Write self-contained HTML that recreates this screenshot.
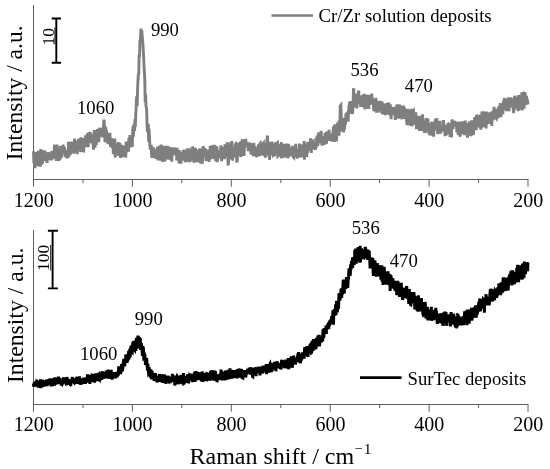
<!DOCTYPE html>
<html><head><meta charset="utf-8"><title>Raman spectra</title>
<style>
html,body{margin:0;padding:0;background:#fff;}
svg{display:block;font-family:"Liberation Serif","Times New Roman",serif;fill:#000;}
</style></head><body>
<svg width="550" height="469" viewBox="0 0 550 469">
<rect width="550" height="469" fill="#fff"/>
<!-- top panel -->
<g stroke="#5e5e5e" stroke-width="1" fill="none"><path d="M33.5 5 V180.0"/><path d="M33 179.5 H528.5"/><path d="M33.5 179.5 v7.2"/><path d="M83.0 179.5 v3.6"/><path d="M132.4 179.5 v7.2"/><path d="M181.8 179.5 v3.6"/><path d="M231.3 179.5 v7.2"/><path d="M280.8 179.5 v3.6"/><path d="M330.2 179.5 v7.2"/><path d="M379.6 179.5 v3.6"/><path d="M429.1 179.5 v7.2"/><path d="M478.6 179.5 v3.6"/><path d="M528.0 179.5 v7.2"/></g>
<polyline points="33.5,151.3 33.9,163.2 34.3,159.1 34.6,163.2 35.0,168.1 35.4,161.1 35.8,159.1 36.2,152.0 36.5,155.7 36.9,160.1 37.3,164.0 37.7,166.0 38.1,157.0 38.4,150.9 38.8,157.2 39.2,166.5 39.6,153.9 40.0,156.5 40.3,166.7 40.7,149.1 41.1,159.5 41.5,164.7 41.9,152.7 42.2,158.8 42.6,163.5 43.0,150.4 43.4,157.9 43.8,160.7 44.1,159.1 44.5,155.9 44.9,150.6 45.3,157.6 45.7,153.8 46.0,157.3 46.4,155.4 46.8,161.5 47.2,161.5 47.6,152.8 47.9,156.6 48.3,152.1 48.7,155.2 49.1,154.3 49.5,159.9 49.8,152.6 50.2,154.7 50.6,160.1 51.0,155.3 51.4,160.5 51.7,151.1 52.1,159.4 52.5,155.3 52.9,153.3 53.3,156.4 53.6,155.2 54.0,154.3 54.4,145.8 54.8,145.0 55.2,158.6 55.5,153.0 55.9,156.5 56.3,160.8 56.7,155.2 57.1,144.5 57.4,149.2 57.8,154.4 58.2,148.6 58.6,161.0 59.0,159.4 59.3,158.8 59.7,153.2 60.1,159.6 60.5,146.1 60.9,149.6 61.2,152.5 61.6,157.7 62.0,153.4 62.4,145.2 62.8,148.7 63.1,150.0 63.5,149.5 63.9,147.0 64.3,147.5 64.7,149.9 65.0,153.6 65.4,156.7 65.8,151.1 66.2,149.9 66.6,155.1 66.9,158.3 67.3,152.8 67.7,156.2 68.1,158.0 68.5,141.8 68.8,156.5 69.2,145.4 69.6,147.6 70.0,154.9 70.4,153.3 70.7,142.3 71.1,152.0 71.5,141.6 71.9,144.4 72.3,153.4 72.6,146.1 73.0,148.5 73.4,151.9 73.8,152.2 74.2,151.4 74.5,138.6 74.9,145.9 75.3,146.4 75.7,141.0 76.1,146.7 76.4,148.4 76.8,150.7 77.2,154.2 77.6,140.4 78.0,142.1 78.3,147.7 78.7,138.6 79.1,141.6 79.5,146.3 79.9,140.0 80.2,148.7 80.6,152.2 81.0,137.2 81.4,145.3 81.8,148.5 82.1,152.2 82.5,140.0 82.9,138.1 83.3,150.0 83.7,150.3 84.0,138.1 84.4,143.4 84.8,144.7 85.2,147.4 85.6,135.2 85.9,144.6 86.3,145.9 86.7,143.5 87.1,136.2 87.5,133.4 87.8,137.1 88.2,147.1 88.6,133.5 89.0,132.9 89.4,137.9 89.7,133.9 90.1,133.1 90.5,133.4 90.9,138.6 91.3,143.1 91.6,137.5 92.0,134.2 92.4,135.2 92.8,142.8 93.2,145.4 93.5,149.7 93.9,134.7 94.3,130.0 94.7,144.6 95.1,147.8 95.4,138.0 95.8,140.2 96.2,145.0 96.6,139.3 97.0,141.8 97.3,129.0 97.7,131.2 98.1,132.5 98.5,129.5 98.9,142.3 99.2,127.9 99.6,137.3 100.0,127.7 100.4,131.9 100.8,133.0 101.1,130.8 101.5,134.8 101.9,133.6 102.3,130.7 102.7,137.3 103.0,127.9 103.4,128.6 103.8,120.9 104.2,120.9 104.6,128.3 104.9,141.9 105.3,141.1 105.7,126.9 106.1,132.3 106.5,130.4 106.8,135.8 107.2,132.9 107.6,135.6 108.0,144.2 108.4,133.7 108.7,139.4 109.1,140.0 109.5,143.9 109.9,132.7 110.3,144.1 110.6,147.2 111.0,143.6 111.4,138.1 111.8,146.1 112.2,147.1 112.5,147.2 112.9,138.7 113.3,153.9 113.7,152.8 114.1,145.4 114.4,147.3 114.8,138.6 115.2,157.4 115.6,153.3 116.0,148.9 116.3,154.1 116.7,143.9 117.1,146.4 117.5,144.7 117.9,151.3 118.2,142.0 118.6,155.9 119.0,150.7 119.4,148.7 119.8,142.7 120.1,153.1 120.5,157.8 120.9,153.6 121.3,145.6 121.7,155.5 122.0,144.8 122.4,157.1 122.8,150.3 123.2,147.7 123.6,150.5 123.9,152.0 124.3,145.8 124.7,157.3 125.1,150.7 125.5,157.3 125.8,156.3 126.2,141.6 126.6,152.1 127.0,146.1 127.4,151.1 127.7,147.8 128.1,147.1 128.5,151.6 128.9,137.7 129.3,146.8 129.6,139.7 130.0,135.1 130.4,147.3 130.8,143.9 131.2,146.5 131.5,142.6 131.9,136.0 132.3,146.9 132.7,130.1 133.1,126.5 133.4,136.8 133.8,126.1 134.2,124.1 134.6,130.9 135.0,119.1 135.3,127.0 135.7,116.4 136.1,108.3 136.5,98.1 136.9,96.2 137.2,106.1 137.6,88.9 138.0,79.6 138.4,74.3 138.8,73.8 139.1,55.1 139.5,57.4 139.9,41.9 140.3,42.0 140.7,34.3 141.0,28.6 141.4,31.5 141.8,30.4 142.2,36.2 142.6,40.6 142.9,44.0 143.3,50.6 143.7,58.9 144.1,67.6 144.5,73.5 144.8,81.4 145.2,102.3 145.6,94.2 146.0,106.2 146.4,107.3 146.7,110.9 147.1,126.4 147.5,132.2 147.9,128.6 148.3,123.8 148.6,141.7 149.0,128.8 149.4,135.5 149.8,143.3 150.2,149.5 150.5,148.8 150.9,147.4 151.3,147.1 151.7,156.2 152.1,157.7 152.4,156.7 152.8,155.6 153.2,147.4 153.6,149.0 154.0,152.7 154.3,152.5 154.7,158.1 155.1,150.0 155.5,157.0 155.9,151.8 156.2,159.0 156.6,149.3 157.0,154.8 157.4,146.7 157.8,148.3 158.1,160.4 158.5,151.7 158.9,160.2 159.3,152.8 159.7,145.5 160.0,159.1 160.4,146.9 160.8,160.7 161.2,144.6 161.6,156.2 161.9,147.8 162.3,150.0 162.7,161.9 163.1,154.2 163.5,156.8 163.8,156.6 164.2,145.9 164.6,161.2 165.0,160.3 165.4,148.7 165.7,155.4 166.1,149.9 166.5,157.2 166.9,145.9 167.3,153.3 167.6,159.0 168.0,158.2 168.4,146.4 168.8,159.6 169.2,149.1 169.5,158.2 169.9,153.8 170.3,147.4 170.7,156.3 171.1,159.1 171.4,157.2 171.8,161.6 172.2,147.6 172.6,150.1 173.0,148.5 173.3,155.3 173.7,152.6 174.1,150.2 174.5,153.4 174.9,149.1 175.2,147.5 175.6,153.0 176.0,150.7 176.4,151.6 176.8,160.4 177.1,147.8 177.5,157.1 177.9,157.1 178.3,150.4 178.7,151.6 179.0,163.4 179.4,150.3 179.8,159.4 180.2,161.9 180.6,152.4 180.9,163.6 181.3,155.0 181.7,156.2 182.1,158.0 182.5,153.7 182.8,156.9 183.2,150.0 183.6,160.3 184.0,154.5 184.4,149.5 184.7,153.2 185.1,162.3 185.5,159.9 185.9,154.0 186.3,151.4 186.6,153.8 187.0,161.9 187.4,148.4 187.8,158.9 188.2,159.4 188.5,149.6 188.9,151.2 189.3,157.4 189.7,161.5 190.1,160.4 190.4,161.6 190.8,150.0 191.2,150.3 191.6,154.9 192.0,155.3 192.3,155.3 192.7,146.2 193.1,154.4 193.5,159.9 193.9,161.7 194.2,162.6 194.6,160.1 195.0,162.2 195.4,147.7 195.8,161.5 196.1,149.7 196.5,151.5 196.9,153.8 197.3,162.1 197.7,155.3 198.0,151.0 198.4,151.9 198.8,160.6 199.2,161.0 199.6,148.5 199.9,150.6 200.3,153.7 200.7,150.5 201.1,156.5 201.5,149.4 201.8,155.0 202.2,163.8 202.6,159.3 203.0,146.2 203.4,147.8 203.7,152.5 204.1,156.8 204.5,152.8 204.9,149.2 205.3,149.3 205.6,148.8 206.0,161.0 206.4,157.2 206.8,152.0 207.2,157.7 207.5,155.4 207.9,154.0 208.3,149.8 208.7,152.8 209.1,161.9 209.4,156.7 209.8,160.0 210.2,146.1 210.6,154.1 211.0,151.3 211.3,145.9 211.7,153.2 212.1,145.3 212.5,148.0 212.9,158.9 213.2,157.5 213.6,156.8 214.0,144.9 214.4,148.1 214.8,145.4 215.1,148.2 215.5,146.0 215.9,161.5 216.3,159.6 216.7,146.5 217.0,148.9 217.4,162.1 217.8,153.3 218.2,150.1 218.6,151.3 218.9,150.3 219.3,153.8 219.7,157.4 220.1,152.3 220.5,158.5 220.8,145.3 221.2,152.3 221.6,161.3 222.0,146.8 222.4,150.2 222.7,154.4 223.1,148.9 223.5,159.2 223.9,151.5 224.3,149.6 224.6,159.2 225.0,144.4 225.4,156.9 225.8,145.0 226.2,150.8 226.5,151.3 226.9,150.3 227.3,142.2 227.7,148.0 228.1,164.0 228.4,163.9 228.8,156.6 229.2,153.3 229.6,157.8 230.0,157.6 230.3,147.5 230.7,142.3 231.1,151.6 231.5,146.1 231.9,141.1 232.2,159.1 232.6,159.2 233.0,150.7 233.4,151.3 233.8,152.2 234.1,157.7 234.5,150.1 234.9,150.6 235.3,144.4 235.7,144.0 236.0,149.8 236.4,145.3 236.8,161.1 237.2,161.0 237.6,152.8 237.9,142.7 238.3,155.5 238.7,152.2 239.1,151.7 239.5,154.1 239.8,143.1 240.2,142.9 240.6,155.2 241.0,157.0 241.4,141.4 241.7,153.8 242.1,140.7 242.5,139.5 242.9,142.7 243.3,143.9 243.6,146.2 244.0,156.0 244.4,146.0 244.8,141.5 245.2,144.5 245.5,139.1 245.9,140.0 246.3,145.0 246.7,146.9 247.1,142.4 247.4,146.3 247.8,143.3 248.2,151.2 248.6,146.2 249.0,142.3 249.3,149.3 249.7,144.0 250.1,143.7 250.5,143.0 250.9,153.6 251.2,145.7 251.6,154.8 252.0,145.7 252.4,143.5 252.8,150.9 253.1,153.6 253.5,156.2 253.9,142.9 254.3,154.8 254.7,156.0 255.0,146.5 255.4,148.3 255.8,151.7 256.2,147.4 256.6,157.4 256.9,153.9 257.3,156.5 257.7,148.3 258.1,150.5 258.5,144.4 258.8,147.7 259.2,153.3 259.6,156.1 260.0,143.6 260.4,143.1 260.7,144.9 261.1,150.3 261.5,154.6 261.9,145.5 262.3,149.2 262.6,150.7 263.0,155.7 263.4,143.2 263.8,142.7 264.2,151.1 264.5,148.1 264.9,147.6 265.3,157.7 265.7,154.2 266.1,143.2 266.4,152.6 266.8,154.5 267.2,136.9 267.6,136.9 268.0,155.5 268.3,143.0 268.7,155.7 269.1,151.8 269.5,159.8 269.9,153.5 270.2,141.9 270.6,154.7 271.0,145.7 271.4,155.1 271.8,141.7 272.1,146.9 272.5,154.4 272.9,143.9 273.3,154.8 273.7,154.4 274.0,154.1 274.4,156.4 274.8,149.4 275.2,142.3 275.6,144.2 275.9,147.8 276.3,143.4 276.7,154.4 277.1,142.9 277.5,142.6 277.8,156.0 278.2,155.6 278.6,144.4 279.0,148.6 279.4,156.2 279.7,152.5 280.1,146.7 280.5,149.9 280.9,156.9 281.3,142.0 281.6,158.5 282.0,150.2 282.4,145.1 282.8,157.1 283.2,143.9 283.5,148.6 283.9,152.3 284.3,145.5 284.7,157.6 285.1,153.3 285.4,144.7 285.8,146.4 286.2,143.6 286.6,153.4 287.0,144.4 287.3,150.8 287.7,156.3 288.1,158.1 288.5,143.9 288.9,149.0 289.2,149.0 289.6,150.4 290.0,150.7 290.4,149.4 290.8,156.4 291.1,147.7 291.5,149.7 291.9,149.0 292.3,145.7 292.7,154.4 293.0,147.7 293.4,157.2 293.8,157.6 294.2,147.0 294.6,148.4 294.9,157.1 295.3,151.8 295.7,143.7 296.1,153.6 296.5,150.1 296.8,156.7 297.2,156.9 297.6,158.3 298.0,154.7 298.4,157.3 298.7,150.6 299.1,148.4 299.5,143.6 299.9,157.5 300.3,145.4 300.6,152.5 301.0,152.7 301.4,157.5 301.8,150.1 302.2,144.7 302.5,149.3 302.9,144.6 303.3,147.6 303.7,153.6 304.1,141.0 304.4,159.7 304.8,151.3 305.2,147.9 305.6,153.6 306.0,143.4 306.3,146.2 306.7,157.0 307.1,143.8 307.5,153.1 307.9,141.8 308.2,148.8 308.6,150.4 309.0,142.3 309.4,144.0 309.8,148.0 310.1,147.7 310.5,138.4 310.9,146.0 311.3,153.0 311.7,142.4 312.0,149.1 312.4,139.5 312.8,143.1 313.2,144.7 313.6,145.0 313.9,146.4 314.3,149.1 314.7,148.1 315.1,148.7 315.5,149.6 315.8,138.3 316.2,147.8 316.6,142.7 317.0,136.7 317.4,136.5 317.7,145.7 318.1,143.6 318.5,132.5 318.9,141.4 319.3,132.3 319.6,138.4 320.0,141.3 320.4,141.1 320.8,132.6 321.2,131.1 321.5,138.4 321.9,145.5 322.3,144.2 322.7,136.1 323.1,139.0 323.4,142.9 323.8,144.4 324.2,139.7 324.6,144.8 325.0,133.0 325.3,133.4 325.7,133.3 326.1,140.8 326.5,143.7 326.9,136.4 327.2,140.6 327.6,131.2 328.0,137.2 328.4,134.6 328.8,133.8 329.1,129.8 329.5,138.5 329.9,139.7 330.3,139.8 330.7,138.3 331.0,134.5 331.4,141.0 331.8,135.6 332.2,141.4 332.6,132.5 332.9,137.3 333.3,127.8 333.7,126.6 334.1,142.0 334.5,132.4 334.8,124.3 335.2,133.6 335.6,139.6 336.0,135.9 336.4,141.3 336.7,138.2 337.1,130.3 337.5,124.6 337.9,122.3 338.3,126.1 338.6,133.4 339.0,135.7 339.4,120.4 339.8,131.9 340.2,106.0 340.5,105.6 340.9,105.1 341.3,119.2 341.7,131.0 342.1,126.6 342.4,123.5 342.8,120.8 343.2,117.7 343.6,132.4 344.0,128.8 344.3,130.1 344.7,126.7 345.1,119.6 345.5,124.7 345.9,113.9 346.2,120.8 346.6,112.6 347.0,113.6 347.4,121.8 347.8,111.5 348.1,121.8 348.5,112.7 348.9,106.7 349.3,106.7 349.7,101.7 350.0,109.0 350.4,112.2 350.8,101.0 351.2,105.4 351.6,113.9 351.9,103.6 352.3,113.9 352.7,111.5 353.1,103.6 353.5,89.0 353.8,88.6 354.2,104.9 354.6,107.3 355.0,97.1 355.4,95.2 355.7,95.3 356.1,95.3 356.5,99.0 356.9,108.5 357.3,100.3 357.6,100.2 358.0,97.2 358.4,92.0 358.8,92.0 359.2,103.5 359.5,97.4 359.9,101.8 360.3,102.5 360.7,106.9 361.1,96.4 361.4,99.2 361.8,103.2 362.2,95.1 362.6,102.4 363.0,107.1 363.3,97.3 363.7,101.3 364.1,93.8 364.5,101.4 364.9,109.4 365.2,101.4 365.6,94.7 366.0,98.0 366.4,101.8 366.8,108.7 367.1,99.4 367.5,101.4 367.9,105.9 368.3,94.7 368.7,109.0 369.0,101.3 369.4,97.7 369.8,104.9 370.2,97.2 370.6,95.3 370.9,96.2 371.3,104.5 371.7,93.6 372.1,101.8 372.5,97.7 372.8,103.7 373.2,99.0 373.6,108.3 374.0,111.4 374.4,101.2 374.7,101.3 375.1,105.3 375.5,109.5 375.9,97.9 376.3,105.8 376.6,110.4 377.0,110.1 377.4,103.8 377.8,112.6 378.2,106.2 378.5,101.4 378.9,102.0 379.3,107.7 379.7,108.3 380.1,111.4 380.4,110.6 380.8,101.0 381.2,104.7 381.6,113.1 382.0,107.5 382.3,101.9 382.7,114.5 383.1,109.5 383.5,104.3 383.9,107.8 384.2,105.6 384.6,104.0 385.0,111.4 385.4,115.2 385.8,108.6 386.1,103.2 386.5,110.4 386.9,107.8 387.3,108.5 387.7,105.4 388.0,114.5 388.4,105.5 388.8,102.5 389.2,113.2 389.6,115.0 389.9,105.5 390.3,104.4 390.7,112.0 391.1,119.2 391.5,106.8 391.8,112.9 392.2,108.3 392.6,115.1 393.0,109.7 393.4,108.0 393.7,113.9 394.1,112.3 394.5,107.2 394.9,108.1 395.3,119.9 395.6,117.3 396.0,113.4 396.4,113.9 396.8,104.6 397.2,107.9 397.5,117.1 397.9,104.4 398.3,118.5 398.7,116.3 399.1,112.9 399.4,108.9 399.8,104.6 400.2,108.6 400.6,115.8 401.0,111.5 401.3,118.4 401.7,105.7 402.1,117.8 402.5,117.7 402.9,115.8 403.2,108.1 403.6,108.4 404.0,107.5 404.4,108.1 404.8,118.8 405.1,114.1 405.5,119.2 405.9,111.2 406.3,113.1 406.7,121.7 407.0,125.1 407.4,108.8 407.8,122.3 408.2,118.9 408.6,109.8 408.9,118.9 409.3,112.1 409.7,113.2 410.1,125.7 410.5,120.8 410.8,108.7 411.2,121.2 411.6,109.0 412.0,126.3 412.4,122.6 412.7,121.3 413.1,111.2 413.5,110.7 413.9,120.4 414.3,117.2 414.6,124.6 415.0,114.6 415.4,120.3 415.8,112.4 416.2,119.7 416.5,129.1 416.9,117.4 417.3,126.8 417.7,115.8 418.1,127.7 418.4,123.0 418.8,115.8 419.2,125.9 419.6,131.0 420.0,116.1 420.3,117.1 420.7,117.3 421.1,122.4 421.5,130.8 421.9,129.3 422.2,121.8 422.6,114.3 423.0,126.1 423.4,124.7 423.8,120.6 424.1,126.8 424.5,132.9 424.9,121.1 425.3,122.0 425.7,132.8 426.0,118.4 426.4,119.3 426.8,120.4 427.2,131.2 427.6,119.6 427.9,118.6 428.3,126.8 428.7,131.0 429.1,130.6 429.5,125.7 429.8,135.4 430.2,123.4 430.6,126.9 431.0,126.2 431.4,128.9 431.7,122.9 432.1,121.9 432.5,135.8 432.9,123.7 433.3,127.9 433.6,136.6 434.0,124.8 434.4,126.7 434.8,127.3 435.2,120.1 435.5,119.4 435.9,130.3 436.3,123.7 436.7,118.1 437.1,121.5 437.4,130.3 437.8,134.1 438.2,127.6 438.6,121.2 439.0,133.6 439.3,121.8 439.7,131.9 440.1,120.7 440.5,133.6 440.9,131.5 441.2,127.9 441.6,126.3 442.0,129.6 442.4,128.9 442.8,129.2 443.1,130.6 443.5,120.0 443.9,126.9 444.3,131.5 444.7,126.3 445.0,136.1 445.4,128.4 445.8,124.7 446.2,135.5 446.6,126.5 446.9,127.7 447.3,132.1 447.7,133.7 448.1,122.8 448.5,133.4 448.8,126.8 449.2,124.6 449.6,125.0 450.0,136.9 450.4,135.8 450.7,129.6 451.1,126.3 451.5,137.4 451.9,119.7 452.3,120.4 452.6,127.9 453.0,129.0 453.4,121.2 453.8,121.8 454.2,121.2 454.5,124.5 454.9,121.0 455.3,122.9 455.7,121.9 456.1,126.8 456.4,122.1 456.8,132.3 457.2,127.6 457.6,122.5 458.0,132.8 458.3,134.8 458.7,125.1 459.1,121.7 459.5,132.8 459.9,134.6 460.2,136.7 460.6,132.4 461.0,131.6 461.4,126.2 461.8,127.0 462.1,121.4 462.5,133.8 462.9,130.0 463.3,126.9 463.7,122.0 464.0,123.2 464.4,135.1 464.8,124.4 465.2,120.6 465.6,127.6 465.9,125.1 466.3,131.2 466.7,130.8 467.1,127.8 467.5,137.7 467.8,134.8 468.2,123.0 468.6,124.3 469.0,125.0 469.4,121.5 469.7,132.3 470.1,133.7 470.5,124.4 470.9,136.3 471.3,128.1 471.6,120.4 472.0,128.9 472.4,130.4 472.8,130.1 473.2,134.2 473.5,134.8 473.9,124.1 474.3,125.4 474.7,117.0 475.1,122.1 475.4,118.1 475.8,117.5 476.2,130.1 476.6,114.7 477.0,115.7 477.3,125.3 477.7,123.8 478.1,120.8 478.5,127.5 478.9,119.7 479.2,117.3 479.6,121.4 480.0,114.8 480.4,126.4 480.8,129.6 481.1,126.5 481.5,126.2 481.9,111.5 482.3,118.8 482.7,127.3 483.0,124.6 483.4,120.3 483.8,122.5 484.2,113.3 484.6,113.6 484.9,111.6 485.3,126.8 485.7,115.6 486.1,128.5 486.5,111.5 486.8,124.6 487.2,118.5 487.6,112.2 488.0,122.5 488.4,122.2 488.7,120.2 489.1,121.2 489.5,118.1 489.9,121.2 490.3,112.3 490.6,124.0 491.0,116.8 491.4,111.8 491.8,125.9 492.2,111.4 492.5,114.1 492.9,117.9 493.3,120.2 493.7,110.8 494.1,106.8 494.4,116.5 494.8,115.2 495.2,115.8 495.6,108.9 496.0,119.3 496.3,117.5 496.7,118.3 497.1,116.8 497.5,115.4 497.9,109.5 498.2,118.3 498.6,106.2 499.0,113.3 499.4,114.3 499.8,114.5 500.1,103.3 500.5,104.2 500.9,117.1 501.3,113.5 501.7,103.7 502.0,108.5 502.4,113.3 502.8,114.2 503.2,108.6 503.6,100.6 503.9,102.9 504.3,98.0 504.7,99.8 505.1,98.5 505.5,108.7 505.8,109.2 506.2,105.6 506.6,111.2 507.0,98.5 507.4,101.1 507.7,107.0 508.1,105.9 508.5,97.4 508.9,111.3 509.3,106.9 509.6,108.4 510.0,103.0 510.4,104.9 510.8,97.5 511.2,101.9 511.5,107.4 511.9,104.8 512.3,104.6 512.7,98.4 513.1,100.0 513.4,112.9 513.8,111.0 514.2,108.3 514.6,95.8 515.0,97.3 515.3,99.9 515.7,108.6 516.1,98.0 516.5,97.9 516.9,97.2 517.2,108.2 517.6,105.5 518.0,111.2 518.4,95.3 518.8,96.6 519.1,110.2 519.5,95.7 519.9,106.5 520.3,104.1 520.7,97.5 521.0,99.8 521.4,105.3 521.8,92.2 522.2,110.5 522.6,93.5 522.9,93.3 523.3,102.4 523.7,93.1 524.1,108.6 524.5,99.3 524.8,93.3 525.2,93.6 525.6,100.4 526.0,105.0 526.4,95.8 526.7,98.5 527.1,99.7 527.5,100.5 527.9,104.5" fill="none" stroke="#7f7f7f" stroke-width="2.9" stroke-linejoin="miter" stroke-miterlimit="3"/>
<g font-size="20" text-anchor="middle"><text x="33.7" y="207.3">1200</text><text x="132.6" y="207.3">1000</text><text x="231.5" y="207.3">800</text><text x="330.4" y="207.3">600</text><text x="429.3" y="207.3">400</text><text x="528.2" y="207.3">200</text></g>
<text transform="translate(22.1,160.3) rotate(-90)" font-size="23.6">Intensity / a.u.</text>
<g stroke="#000" stroke-width="1.9" fill="none"><path d="M56.3 18.5 V62.8 M51.7 18.5 H61 M51.7 62.8 H61"/></g>
<text transform="translate(53.7,45.5) rotate(-90)" font-size="17.5">10</text>
<path d="M54.9 27.5 V44.4" stroke="#000" stroke-width="0.9"/>
<g font-size="18.7">
<text x="77" y="113.6">1060</text>
<text x="150.9" y="35.85">990</text>
<text x="350.5" y="75.5">536</text>
<text x="404.8" y="92.1">470</text>
</g>
<path d="M271.5 15.5 H313" stroke="#7f7f7f" stroke-width="2.4"/>
<text x="318.6" y="22.1" font-size="18.78">Cr/Zr solution deposits</text>
<!-- bottom panel -->
<g stroke="#5e5e5e" stroke-width="1" fill="none"><path d="M33.5 230 V405.0"/><path d="M33 404.5 H528.5"/><path d="M33.5 404.5 v7.2"/><path d="M83.0 404.5 v3.6"/><path d="M132.4 404.5 v7.2"/><path d="M181.8 404.5 v3.6"/><path d="M231.3 404.5 v7.2"/><path d="M280.8 404.5 v3.6"/><path d="M330.2 404.5 v7.2"/><path d="M379.6 404.5 v3.6"/><path d="M429.1 404.5 v7.2"/><path d="M478.6 404.5 v3.6"/><path d="M528.0 404.5 v7.2"/></g>
<polyline points="33.5,383.5 33.8,386.9 34.1,384.1 34.4,382.5 34.7,383.3 35.0,386.6 35.3,381.3 35.6,383.0 35.9,386.3 36.2,385.4 36.5,383.5 36.8,381.2 37.1,381.4 37.4,383.5 37.7,385.6 38.0,382.3 38.3,387.6 38.6,384.7 38.9,383.4 39.2,386.3 39.5,382.0 39.8,387.1 40.1,382.4 40.4,379.4 40.7,388.2 41.0,383.1 41.3,386.8 41.6,379.8 41.9,380.9 42.2,383.5 42.5,387.2 42.8,379.8 43.1,382.7 43.4,386.0 43.7,382.1 44.0,382.6 44.3,386.4 44.6,383.1 44.9,384.4 45.2,383.7 45.5,386.4 45.8,380.9 46.1,382.6 46.4,379.6 46.7,381.5 47.0,385.2 47.3,385.9 47.6,380.6 47.9,384.7 48.2,382.6 48.5,383.3 48.8,380.9 49.1,380.4 49.4,379.5 49.7,382.0 50.0,378.3 50.3,384.5 50.6,379.4 50.9,383.0 51.2,382.6 51.5,380.0 51.8,386.3 52.1,384.6 52.4,384.6 52.7,379.1 53.0,380.9 53.3,383.3 53.6,378.1 53.9,383.4 54.2,384.4 54.5,385.7 54.8,381.0 55.1,377.5 55.4,379.1 55.7,384.7 56.0,378.2 56.3,381.9 56.6,383.1 56.9,380.8 57.2,384.0 57.5,378.9 57.8,382.0 58.1,380.0 58.4,376.6 58.7,379.9 59.0,378.7 59.3,379.7 59.6,381.2 59.9,377.9 60.2,384.3 60.5,382.4 60.8,379.8 61.1,381.7 61.4,385.7 61.7,382.4 62.0,380.8 62.3,382.3 62.6,383.4 62.9,382.8 63.2,379.2 63.5,377.5 63.8,379.6 64.1,380.1 64.4,383.5 64.7,377.4 65.0,383.8 65.3,377.4 65.6,379.9 65.9,379.8 66.2,384.4 66.5,385.3 66.8,377.1 67.1,378.1 67.4,380.5 67.7,378.2 68.0,384.7 68.3,381.8 68.6,379.0 68.9,382.6 69.2,383.3 69.5,383.6 69.8,383.9 70.1,381.0 70.4,383.6 70.7,385.9 71.0,381.2 71.3,382.6 71.6,380.7 71.9,380.3 72.2,378.0 72.5,377.3 72.8,379.7 73.1,379.0 73.4,381.5 73.7,381.6 74.0,382.6 74.3,382.9 74.6,381.8 74.9,381.4 75.2,381.9 75.5,382.8 75.8,383.7 76.1,377.8 76.4,383.9 76.7,378.2 77.0,376.8 77.3,383.6 77.6,378.8 77.9,383.9 78.2,379.4 78.5,379.9 78.8,383.4 79.1,382.4 79.4,376.4 79.7,384.4 80.0,378.0 80.3,382.1 80.6,384.5 80.9,383.5 81.2,380.0 81.5,384.4 81.8,381.7 82.1,378.5 82.4,383.9 82.7,381.1 83.0,378.9 83.3,380.6 83.6,377.7 83.9,381.0 84.2,381.5 84.5,377.6 84.8,380.3 85.1,378.5 85.4,384.0 85.7,377.8 86.0,380.7 86.3,381.2 86.6,380.9 86.9,378.5 87.2,377.3 87.5,374.5 87.8,377.3 88.1,382.6 88.4,377.3 88.7,379.9 89.0,377.2 89.3,374.9 89.6,378.7 89.9,383.9 90.2,378.5 90.5,377.4 90.8,379.5 91.1,377.4 91.4,376.5 91.7,377.1 92.0,381.9 92.3,375.6 92.6,374.3 92.9,380.3 93.2,375.3 93.5,374.0 93.8,375.6 94.1,381.2 94.4,382.3 94.7,381.5 95.0,375.9 95.3,381.2 95.6,373.2 95.9,377.0 96.2,377.9 96.5,377.2 96.8,381.1 97.1,379.0 97.4,376.1 97.7,378.6 98.0,378.5 98.3,372.8 98.6,374.6 98.9,374.3 99.2,380.0 99.5,380.2 99.8,374.3 100.1,380.5 100.4,372.5 100.7,373.7 101.0,372.9 101.3,376.5 101.6,379.7 101.9,378.6 102.2,371.3 102.5,373.3 102.8,378.9 103.1,374.4 103.4,378.4 103.7,376.5 104.0,376.8 104.3,377.4 104.6,375.8 104.9,372.4 105.2,378.7 105.5,375.8 105.8,377.5 106.1,370.6 106.4,372.6 106.7,376.1 107.0,377.8 107.3,373.3 107.6,377.7 107.9,369.7 108.2,370.9 108.5,377.1 108.8,378.6 109.1,373.3 109.4,373.6 109.7,373.7 110.0,375.2 110.3,374.0 110.6,373.7 110.9,377.4 111.2,369.7 111.5,378.4 111.8,377.2 112.1,379.6 112.4,377.6 112.7,377.0 113.0,372.0 113.3,377.3 113.6,374.5 113.9,372.3 114.2,377.1 114.5,373.6 114.8,378.2 115.1,375.5 115.4,377.0 115.7,377.0 116.0,374.2 116.3,376.8 116.6,372.8 116.9,371.9 117.2,377.4 117.5,374.4 117.8,373.5 118.1,375.8 118.4,373.0 118.7,366.2 119.0,372.5 119.3,370.9 119.6,371.7 119.9,373.6 120.2,371.5 120.5,374.1 120.8,370.9 121.1,371.9 121.4,366.5 121.7,364.0 122.0,366.4 122.3,370.4 122.6,370.1 122.9,367.2 123.2,363.9 123.5,361.1 123.8,358.9 124.1,362.1 124.4,362.6 124.7,366.5 125.0,362.6 125.3,361.5 125.6,361.0 125.9,354.3 126.2,356.1 126.5,360.5 126.8,360.5 127.1,362.8 127.4,357.2 127.7,359.2 128.0,359.9 128.3,359.4 128.6,350.9 128.9,358.4 129.2,358.0 129.5,356.1 129.8,348.8 130.1,357.0 130.4,354.0 130.7,346.9 131.0,352.3 131.3,345.3 131.6,345.9 131.9,352.7 132.2,352.9 132.5,348.6 132.8,341.7 133.1,347.4 133.4,343.5 133.7,343.0 134.0,341.1 134.3,349.6 134.6,350.0 134.9,344.3 135.2,346.3 135.5,340.7 135.8,350.9 136.1,344.9 136.4,337.7 136.7,343.7 137.0,342.0 137.3,348.6 137.6,344.7 137.9,335.6 138.2,342.5 138.5,336.5 138.8,340.4 139.1,346.2 139.4,337.1 139.7,345.0 140.0,342.2 140.3,338.0 140.6,349.9 140.9,347.5 141.2,343.0 141.5,344.7 141.8,347.2 142.1,351.2 142.4,355.9 142.7,351.7 143.0,347.5 143.3,347.7 143.6,351.9 143.9,360.8 144.2,352.4 144.5,360.4 144.8,353.8 145.1,358.8 145.4,363.6 145.7,363.6 146.0,358.2 146.3,359.9 146.6,362.1 146.9,361.7 147.2,365.9 147.5,370.7 147.8,363.8 148.1,366.5 148.4,369.8 148.7,374.1 149.0,373.8 149.3,367.4 149.6,372.8 149.9,374.5 150.2,372.5 150.5,377.7 150.8,369.4 151.1,375.4 151.4,377.5 151.7,379.2 152.0,370.6 152.3,377.8 152.6,374.4 152.9,377.8 153.2,376.0 153.5,378.3 153.8,373.1 154.1,380.9 154.4,375.9 154.7,381.0 155.0,374.5 155.3,373.2 155.6,375.7 155.9,380.1 156.2,381.1 156.5,378.0 156.8,376.2 157.1,382.5 157.4,379.3 157.7,378.1 158.0,379.6 158.3,375.8 158.6,378.8 158.9,377.3 159.2,375.3 159.5,374.2 159.8,376.5 160.1,381.7 160.4,380.8 160.7,379.3 161.0,381.9 161.3,375.7 161.6,381.2 161.9,382.0 162.2,374.3 162.5,382.8 162.8,381.6 163.1,378.8 163.4,379.8 163.7,380.5 164.0,379.1 164.3,374.3 164.6,378.6 164.9,382.9 165.2,378.7 165.5,377.1 165.8,383.8 166.1,378.6 166.4,375.6 166.7,380.2 167.0,375.5 167.3,380.6 167.6,381.5 167.9,375.6 168.2,377.7 168.5,380.1 168.8,376.2 169.1,383.5 169.4,381.6 169.7,376.8 170.0,380.1 170.3,379.6 170.6,378.5 170.9,380.6 171.2,378.5 171.5,379.3 171.8,378.4 172.1,380.7 172.4,373.7 172.7,380.2 173.0,376.0 173.3,376.1 173.6,382.3 173.9,376.4 174.2,380.8 174.5,376.6 174.8,385.4 175.1,384.0 175.4,378.0 175.7,383.3 176.0,384.0 176.3,375.8 176.6,377.0 176.9,376.3 177.2,377.0 177.5,379.4 177.8,378.4 178.1,379.0 178.4,375.7 178.7,379.3 179.0,384.3 179.3,377.7 179.6,381.4 179.9,376.1 180.2,381.8 180.5,380.4 180.8,383.3 181.1,374.8 181.4,380.9 181.7,378.6 182.0,377.7 182.3,377.3 182.6,384.2 182.9,376.6 183.2,380.5 183.5,373.1 183.8,383.6 184.1,383.4 184.4,381.7 184.7,379.1 185.0,377.6 185.3,377.9 185.6,380.2 185.9,378.4 186.2,382.7 186.5,376.4 186.8,383.0 187.1,376.7 187.4,375.4 187.7,374.7 188.0,376.2 188.3,383.3 188.6,382.3 188.9,380.6 189.2,376.8 189.5,375.4 189.8,375.8 190.1,380.1 190.4,373.5 190.7,377.9 191.0,375.6 191.3,380.4 191.6,379.6 191.9,373.8 192.2,376.4 192.5,381.2 192.8,382.0 193.1,377.9 193.4,381.6 193.7,374.1 194.0,377.4 194.3,380.0 194.6,371.9 194.9,377.9 195.2,381.9 195.5,373.8 195.8,371.1 196.1,379.8 196.4,379.2 196.7,374.6 197.0,375.4 197.3,376.4 197.6,371.8 197.9,379.9 198.2,373.8 198.5,379.5 198.8,377.9 199.1,372.3 199.4,380.2 199.7,374.3 200.0,379.2 200.3,372.4 200.6,378.1 200.9,376.4 201.2,377.7 201.5,380.0 201.8,380.0 202.1,371.6 202.4,373.1 202.7,382.0 203.0,376.0 203.3,381.3 203.6,377.0 203.9,381.0 204.2,373.0 204.5,377.1 204.8,379.8 205.1,376.1 205.4,379.5 205.7,379.5 206.0,379.6 206.3,372.4 206.6,381.1 206.9,377.7 207.2,373.0 207.5,380.4 207.8,374.1 208.1,374.3 208.4,375.0 208.7,376.1 209.0,373.8 209.3,380.4 209.6,379.7 209.9,374.4 210.2,380.8 210.5,371.4 210.8,371.8 211.1,379.3 211.4,373.4 211.7,371.4 212.0,370.3 212.3,374.3 212.6,371.1 212.9,376.3 213.2,370.3 213.5,375.4 213.8,380.6 214.1,376.6 214.4,372.7 214.7,370.5 215.0,379.9 215.3,371.0 215.6,375.7 215.9,373.6 216.2,378.3 216.5,376.3 216.8,380.7 217.1,380.8 217.4,377.7 217.7,375.8 218.0,375.7 218.3,379.6 218.6,378.8 218.9,377.1 219.2,379.5 219.5,374.8 219.8,379.0 220.1,377.9 220.4,373.3 220.7,377.8 221.0,370.6 221.3,369.7 221.6,378.0 221.9,380.3 222.2,373.5 222.5,373.8 222.8,371.9 223.1,379.5 223.4,371.5 223.7,376.8 224.0,378.1 224.3,374.6 224.6,380.4 224.9,374.4 225.2,377.4 225.5,370.6 225.8,374.6 226.1,376.8 226.4,371.5 226.7,378.2 227.0,379.7 227.3,371.8 227.6,374.8 227.9,369.8 228.2,373.4 228.5,376.3 228.8,370.7 229.1,379.2 229.4,371.2 229.7,374.2 230.0,368.3 230.3,372.5 230.6,378.0 230.9,373.3 231.2,378.5 231.5,377.5 231.8,374.1 232.1,370.9 232.4,377.3 232.7,378.2 233.0,371.2 233.3,370.1 233.6,377.2 233.9,374.6 234.2,371.8 234.5,370.4 234.8,373.3 235.1,378.2 235.4,370.3 235.7,376.5 236.0,372.0 236.3,375.4 236.6,373.6 236.9,374.4 237.2,369.2 237.5,377.4 237.8,377.9 238.1,373.7 238.4,373.2 238.7,376.9 239.0,370.0 239.3,368.5 239.6,376.7 239.9,374.5 240.2,373.9 240.5,368.9 240.8,377.4 241.1,375.0 241.4,369.2 241.7,374.8 242.0,378.7 242.3,370.4 242.6,377.8 242.9,378.0 243.2,376.0 243.5,374.1 243.8,372.3 244.1,371.7 244.4,375.6 244.7,370.0 245.0,372.9 245.3,373.5 245.6,377.0 245.9,376.4 246.2,371.8 246.5,373.2 246.8,374.6 247.1,372.5 247.4,369.9 247.7,369.1 248.0,373.7 248.3,370.9 248.6,370.5 248.9,371.1 249.2,367.5 249.5,373.3 249.8,367.5 250.1,368.7 250.4,374.6 250.7,367.2 251.0,373.0 251.3,373.1 251.6,368.4 251.9,371.7 252.2,372.0 252.5,376.5 252.8,376.7 253.1,371.5 253.4,370.8 253.7,372.6 254.0,367.8 254.3,372.2 254.6,367.5 254.9,368.5 255.2,374.4 255.5,373.4 255.8,371.6 256.1,376.1 256.4,368.4 256.7,369.2 257.0,372.1 257.3,369.9 257.6,372.6 257.9,366.8 258.2,373.2 258.5,367.1 258.8,368.1 259.1,366.8 259.4,372.4 259.7,367.0 260.0,375.5 260.3,368.3 260.6,366.8 260.9,368.6 261.2,370.6 261.5,367.4 261.8,373.1 262.1,372.4 262.4,370.0 262.7,373.2 263.0,371.5 263.3,365.5 263.6,368.1 263.9,368.9 264.2,368.3 264.5,368.1 264.8,369.6 265.1,372.1 265.4,369.9 265.7,372.1 266.0,370.1 266.3,364.0 266.6,374.1 266.9,365.5 267.2,367.8 267.5,364.5 267.8,369.3 268.1,370.1 268.4,364.9 268.7,372.6 269.0,364.1 269.3,372.3 269.6,370.8 269.9,364.3 270.2,363.6 270.5,364.6 270.8,368.4 271.1,365.7 271.4,372.2 271.7,364.4 272.0,371.4 272.3,365.7 272.6,363.0 272.9,369.5 273.2,368.6 273.5,364.9 273.8,365.8 274.1,364.4 274.4,361.8 274.7,367.0 275.0,367.0 275.3,362.3 275.6,363.9 275.9,371.3 276.2,365.4 276.5,367.2 276.8,362.9 277.1,361.3 277.4,367.4 277.7,362.6 278.0,367.2 278.3,363.9 278.6,364.6 278.9,367.1 279.2,367.9 279.5,364.5 279.8,367.3 280.1,367.4 280.4,368.7 280.7,367.5 281.0,369.5 281.3,363.4 281.6,360.8 281.9,359.9 282.2,363.2 282.5,364.5 282.8,363.1 283.1,360.6 283.4,365.3 283.7,362.9 284.0,360.3 284.3,368.3 284.6,365.4 284.9,360.8 285.2,362.0 285.5,364.6 285.8,359.7 286.1,364.7 286.4,366.7 286.7,361.3 287.0,363.9 287.3,368.4 287.6,364.8 287.9,362.3 288.2,358.1 288.5,367.8 288.8,369.1 289.1,364.4 289.4,359.7 289.7,363.3 290.0,365.9 290.3,362.0 290.6,367.2 290.9,362.8 291.2,356.4 291.5,359.4 291.8,367.4 292.1,366.7 292.4,366.6 292.7,357.2 293.0,358.6 293.3,361.4 293.6,355.5 293.9,364.4 294.2,361.6 294.5,363.1 294.8,361.6 295.1,358.5 295.4,364.7 295.7,357.9 296.0,360.1 296.3,359.0 296.6,361.9 296.9,360.1 297.2,357.3 297.5,356.7 297.8,355.1 298.1,353.6 298.4,358.1 298.7,352.0 299.0,356.5 299.3,362.4 299.6,358.8 299.9,355.2 300.2,361.7 300.5,363.1 300.8,358.2 301.1,353.9 301.4,360.3 301.7,359.0 302.0,358.4 302.3,355.6 302.6,352.4 302.9,353.6 303.2,354.6 303.5,354.3 303.8,354.8 304.1,358.8 304.4,351.6 304.7,348.6 305.0,348.6 305.3,355.3 305.6,348.6 305.9,350.0 306.2,349.9 306.5,346.4 306.8,355.7 307.1,350.1 307.4,356.2 307.7,349.9 308.0,357.0 308.3,346.1 308.6,349.5 308.9,347.5 309.2,351.4 309.5,345.5 309.8,350.1 310.1,345.1 310.4,344.7 310.7,352.9 311.0,350.5 311.3,352.9 311.6,352.7 311.9,350.6 312.2,340.9 312.5,345.4 312.8,346.2 313.1,351.0 313.4,339.1 313.7,349.0 314.0,341.5 314.3,340.9 314.6,341.0 314.9,343.7 315.2,349.1 315.5,348.3 315.8,341.6 316.1,348.6 316.4,337.7 316.7,338.8 317.0,342.7 317.3,342.4 317.6,346.4 317.9,335.6 318.2,346.4 318.5,339.8 318.8,344.2 319.1,334.8 319.4,346.4 319.7,344.0 320.0,340.1 320.3,341.7 320.6,342.5 320.9,340.8 321.2,338.9 321.5,342.4 321.8,336.5 322.1,338.2 322.4,335.4 322.7,341.3 323.0,329.2 323.3,338.5 323.6,330.0 323.9,337.5 324.2,328.0 324.5,329.6 324.8,333.4 325.1,331.6 325.4,333.2 325.7,332.4 326.0,325.5 326.3,333.8 326.6,328.2 326.9,328.8 327.2,328.2 327.5,325.5 327.8,324.4 328.1,324.0 328.4,326.5 328.7,329.2 329.0,322.3 329.3,326.4 329.6,320.6 329.9,325.0 330.2,323.1 330.5,319.4 330.8,323.7 331.1,321.4 331.4,319.8 331.7,316.0 332.0,323.4 332.3,317.5 332.6,319.4 332.9,310.3 333.2,322.7 333.5,324.6 333.8,310.0 334.1,312.5 334.4,309.2 334.7,314.8 335.0,315.5 335.3,313.4 335.6,304.3 335.9,314.8 336.2,312.4 336.5,300.9 336.8,303.2 337.1,303.9 337.4,312.1 337.7,303.2 338.0,304.8 338.3,308.8 338.6,307.3 338.9,294.8 339.2,293.2 339.5,295.8 339.8,300.2 340.1,299.4 340.4,294.4 340.7,293.0 341.0,290.4 341.3,288.5 341.6,297.9 341.9,294.3 342.2,292.9 342.5,292.9 342.8,290.4 343.1,281.6 343.4,279.6 343.7,293.1 344.0,291.8 344.3,293.4 344.6,284.1 344.9,287.4 345.2,286.1 345.5,285.5 345.8,288.7 346.1,287.4 346.4,277.0 346.7,280.6 347.0,278.6 347.3,284.6 347.6,287.8 347.9,286.3 348.2,277.4 348.5,279.8 348.8,271.4 349.1,268.4 349.4,274.2 349.7,270.4 350.0,275.3 350.3,274.6 350.6,264.3 350.9,269.8 351.2,267.1 351.5,261.0 351.8,264.1 352.1,268.3 352.4,257.8 352.7,267.6 353.0,257.0 353.3,258.9 353.6,258.0 353.9,263.9 354.2,264.9 354.5,262.9 354.8,250.1 355.1,253.8 355.4,255.1 355.7,248.6 356.0,255.8 356.3,263.7 356.6,257.0 356.9,255.9 357.2,261.5 357.5,255.1 357.8,252.4 358.1,247.0 358.4,250.5 358.7,255.0 359.0,254.1 359.3,253.9 359.6,255.3 359.9,262.6 360.2,245.9 360.5,262.0 360.8,255.0 361.1,250.7 361.4,248.8 361.7,249.8 362.0,249.9 362.3,250.4 362.6,256.7 362.9,251.0 363.2,249.5 363.5,258.9 363.8,258.5 364.1,252.0 364.4,255.1 364.7,255.4 365.0,250.2 365.3,246.8 365.6,252.6 365.9,248.7 366.2,254.0 366.5,250.8 366.8,254.6 367.1,253.1 367.4,257.2 367.7,259.7 368.0,249.8 368.3,251.6 368.6,260.0 368.9,253.4 369.2,250.7 369.5,258.0 369.8,260.0 370.1,268.5 370.4,260.6 370.7,265.3 371.0,264.5 371.3,267.5 371.6,257.5 371.9,260.1 372.2,264.7 372.5,261.5 372.8,258.0 373.1,271.0 373.4,275.9 373.7,266.3 374.0,266.6 374.3,269.9 374.6,266.3 374.9,260.3 375.2,264.3 375.5,273.4 375.8,275.4 376.1,266.7 376.4,276.8 376.7,265.0 377.0,266.0 377.3,263.1 377.6,273.6 377.9,266.7 378.2,274.3 378.5,276.4 378.8,272.3 379.1,265.0 379.4,268.9 379.7,276.0 380.0,274.1 380.3,271.9 380.6,266.9 380.9,279.7 381.2,272.8 381.5,272.5 381.8,265.3 382.1,281.6 382.4,277.7 382.7,271.2 383.0,283.5 383.3,283.5 383.6,282.8 383.9,268.5 384.2,266.7 384.5,272.9 384.8,280.1 385.1,272.4 385.4,272.5 385.7,276.2 386.0,279.6 386.3,284.7 386.6,274.0 386.9,277.2 387.2,284.0 387.5,274.9 387.8,281.9 388.1,271.2 388.4,284.4 388.7,278.9 389.0,275.9 389.3,285.5 389.6,274.7 389.9,274.3 390.2,290.9 390.5,285.0 390.8,275.9 391.1,276.3 391.4,283.8 391.7,285.5 392.0,286.4 392.3,280.9 392.6,279.0 392.9,278.4 393.2,283.0 393.5,288.4 393.8,287.9 394.1,282.4 394.4,280.8 394.7,286.8 395.0,290.7 395.3,285.0 395.6,289.7 395.9,286.4 396.2,291.6 396.5,287.5 396.8,295.3 397.1,283.4 397.4,280.9 397.7,293.9 398.0,281.8 398.3,284.2 398.6,289.8 398.9,291.2 399.2,290.0 399.5,296.9 399.8,285.0 400.1,288.5 400.4,294.4 400.7,296.4 401.0,286.1 401.3,282.8 401.6,293.4 401.9,292.6 402.2,289.4 402.5,299.8 402.8,298.9 403.1,289.5 403.4,292.0 403.7,293.9 404.0,292.9 404.3,290.5 404.6,287.7 404.9,296.4 405.2,290.3 405.5,297.9 405.8,296.7 406.1,294.9 406.4,287.4 406.7,286.0 407.0,290.6 407.3,298.6 407.6,297.0 407.9,298.1 408.2,289.0 408.5,298.2 408.8,303.9 409.1,289.5 409.4,290.1 409.7,299.9 410.0,296.6 410.3,295.2 410.6,304.6 410.9,304.8 411.2,302.7 411.5,292.0 411.8,301.9 412.1,293.5 412.4,298.2 412.7,303.0 413.0,294.4 413.3,298.7 413.6,303.0 413.9,292.1 414.2,295.8 414.5,298.7 414.8,309.4 415.1,305.2 415.4,302.5 415.7,296.3 416.0,307.1 416.3,298.1 416.6,306.0 416.9,299.6 417.2,310.9 417.5,296.6 417.8,298.1 418.1,311.6 418.4,295.3 418.7,305.4 419.0,298.9 419.3,305.7 419.6,306.6 419.9,305.6 420.2,304.1 420.5,311.4 420.8,299.4 421.1,309.2 421.4,298.0 421.7,311.5 422.0,305.7 422.3,310.2 422.6,302.3 422.9,315.1 423.2,312.9 423.5,315.1 423.8,314.9 424.1,310.7 424.4,302.1 424.7,306.0 425.0,302.1 425.3,303.0 425.6,312.9 425.9,318.5 426.2,316.9 426.5,309.1 426.8,309.1 427.1,314.3 427.4,306.8 427.7,319.2 428.0,319.9 428.3,311.5 428.6,318.5 428.9,309.7 429.2,320.4 429.5,309.6 429.8,314.0 430.1,318.8 430.4,316.0 430.7,316.9 431.0,313.4 431.3,306.9 431.6,320.8 431.9,318.4 432.2,318.4 432.5,314.9 432.8,312.8 433.1,309.8 433.4,319.5 433.7,319.1 434.0,313.2 434.3,316.1 434.6,316.6 434.9,315.3 435.2,317.9 435.5,315.9 435.8,307.9 436.1,312.9 436.4,311.1 436.7,314.8 437.0,318.4 437.3,323.9 437.6,321.6 437.9,320.9 438.2,317.2 438.5,317.9 438.8,318.3 439.1,313.9 439.4,321.4 439.7,321.2 440.0,321.0 440.3,313.2 440.6,318.4 440.9,318.1 441.2,320.4 441.5,322.1 441.8,323.0 442.1,317.2 442.4,313.3 442.7,325.5 443.0,322.6 443.3,325.9 443.6,317.8 443.9,312.4 444.2,322.0 444.5,311.8 444.8,312.5 445.1,321.0 445.4,320.1 445.7,316.2 446.0,312.0 446.3,320.3 446.6,324.4 446.9,325.6 447.2,317.1 447.5,314.9 447.8,321.7 448.1,320.9 448.4,319.2 448.7,314.5 449.0,316.8 449.3,317.5 449.6,320.5 449.9,316.3 450.2,314.3 450.5,326.5 450.8,322.1 451.1,312.1 451.4,324.6 451.7,315.8 452.0,318.0 452.3,321.6 452.6,323.6 452.9,324.4 453.2,319.5 453.5,313.9 453.8,315.0 454.1,318.0 454.4,317.0 454.7,318.1 455.0,318.1 455.3,327.5 455.6,325.3 455.9,318.9 456.2,319.1 456.5,328.3 456.8,326.0 457.1,326.9 457.4,320.3 457.7,314.9 458.0,315.0 458.3,315.8 458.6,323.7 458.9,319.1 459.2,316.4 459.5,324.6 459.8,325.1 460.1,317.7 460.4,320.3 460.7,319.7 461.0,323.3 461.3,319.1 461.6,325.4 461.9,322.0 462.2,317.3 462.5,322.2 462.8,318.8 463.1,316.2 463.4,321.5 463.7,325.1 464.0,318.2 464.3,319.9 464.6,312.8 464.9,312.8 465.2,312.6 465.5,322.3 465.8,312.1 466.1,314.3 466.4,320.0 466.7,320.8 467.0,325.1 467.3,317.0 467.6,309.5 467.9,314.9 468.2,322.3 468.5,313.1 468.8,309.6 469.1,323.7 469.4,320.7 469.7,317.6 470.0,310.5 470.3,318.6 470.6,310.0 470.9,310.9 471.2,310.6 471.5,307.8 471.8,320.6 472.1,318.6 472.4,315.2 472.7,314.6 473.0,310.5 473.3,308.0 473.6,309.7 473.9,317.9 474.2,312.2 474.5,307.2 474.8,311.6 475.1,311.3 475.4,308.4 475.7,305.3 476.0,310.3 476.3,317.8 476.6,306.4 476.9,308.1 477.2,314.5 477.5,311.1 477.8,309.5 478.1,311.2 478.4,310.8 478.7,301.7 479.0,308.2 479.3,303.1 479.6,301.6 479.9,298.5 480.2,302.9 480.5,311.4 480.8,300.2 481.1,300.2 481.4,301.2 481.7,308.7 482.0,306.1 482.3,303.3 482.6,306.7 482.9,302.8 483.2,306.5 483.5,299.7 483.8,300.1 484.1,299.7 484.4,312.7 484.7,302.4 485.0,298.8 485.3,302.7 485.6,302.7 485.9,294.3 486.2,296.5 486.5,300.8 486.8,302.9 487.1,305.2 487.4,302.8 487.7,303.6 488.0,298.6 488.3,298.4 488.6,296.6 488.9,301.5 489.2,305.5 489.5,300.7 489.8,296.5 490.1,291.9 490.4,289.5 490.7,299.7 491.0,288.8 491.3,290.5 491.6,298.4 491.9,291.4 492.2,301.6 492.5,291.5 492.8,296.3 493.1,299.0 493.4,289.4 493.7,292.8 494.0,291.6 494.3,292.8 494.6,300.4 494.9,293.8 495.2,290.4 495.5,290.8 495.8,289.3 496.1,294.2 496.4,291.8 496.7,298.0 497.0,290.8 497.3,296.4 497.6,287.9 497.9,288.8 498.2,287.4 498.5,293.9 498.8,284.7 499.1,283.8 499.4,285.7 499.7,293.0 500.0,292.5 500.3,285.7 500.6,295.1 500.9,290.4 501.2,282.2 501.5,285.8 501.8,290.3 502.1,293.1 502.4,289.0 502.7,292.3 503.0,280.7 503.3,277.4 503.6,288.7 503.9,278.6 504.2,291.2 504.5,287.2 504.8,286.0 505.1,281.5 505.4,282.0 505.7,278.4 506.0,277.8 506.3,285.1 506.6,290.8 506.9,278.0 507.2,281.2 507.5,288.8 507.8,282.7 508.1,290.3 508.4,286.1 508.7,280.3 509.0,280.7 509.3,282.9 509.6,274.4 509.9,275.0 510.2,282.0 510.5,283.5 510.8,271.3 511.1,275.7 511.4,270.7 511.7,285.4 512.0,273.8 512.3,273.3 512.6,270.3 512.9,279.3 513.2,279.3 513.5,275.3 513.8,278.5 514.1,271.7 514.4,284.4 514.7,278.2 515.0,274.3 515.3,271.9 515.6,272.6 515.9,280.0 516.2,282.0 516.5,277.1 516.8,267.7 517.1,282.4 517.4,272.0 517.7,264.7 518.0,277.5 518.3,269.1 518.6,282.3 518.9,273.9 519.2,271.9 519.5,276.3 519.8,278.0 520.1,265.4 520.4,267.3 520.7,272.6 521.0,273.6 521.3,273.4 521.6,271.4 521.9,279.6 522.2,271.7 522.5,263.5 522.8,278.6 523.1,276.7 523.4,273.0 523.7,272.0 524.0,277.8 524.3,261.6 524.6,274.3 524.9,263.0 525.2,264.0 525.5,274.1 525.8,264.3 526.1,268.2 526.4,262.4 526.7,269.6 527.0,262.2 527.3,265.7 527.6,271.4 527.9,262.8" fill="none" stroke="#000" stroke-width="3" stroke-linejoin="miter" stroke-miterlimit="3"/>
<g font-size="20" text-anchor="middle"><text x="33.7" y="431.3">1200</text><text x="132.6" y="431.3">1000</text><text x="231.5" y="431.3">800</text><text x="330.4" y="431.3">600</text><text x="429.3" y="431.3">400</text><text x="528.2" y="431.3">200</text></g>
<text transform="translate(22.5,383.1) rotate(-90)" font-size="23.7">Intensity / a.u.</text>
<g stroke="#000" stroke-width="1.9" fill="none"><path d="M52.6 230.8 V288.4 M47.9 230.8 H57.9 M47.9 288.4 H57.9"/></g>
<text transform="translate(49.4,271) rotate(-90)" font-size="17.4">100</text>
<path d="M50.7 245 V270.5" stroke="#000" stroke-width="0.9"/>
<g font-size="18.7">
<text x="80" y="359.7">1060</text>
<text x="134.7" y="325">990</text>
<text x="351.7" y="234.2">536</text>
<text x="389.7" y="266.5">470</text>
</g>
<path d="M360 377.6 H401.6" stroke="#000" stroke-width="2.8"/>
<text x="407.6" y="384.9" font-size="18.7">SurTec deposits</text>
<text x="189.5" y="463.7" font-size="24">Raman shift / cm<tspan font-size="14.2" dy="-10.9" dx="0.3">−</tspan><tspan font-size="15.5" dy="1.1" dx="1.2">1</tspan></text>
</svg>
</body></html>
